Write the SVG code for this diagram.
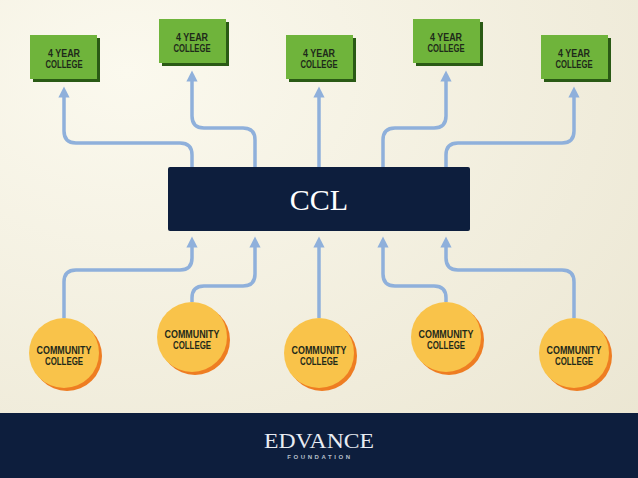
<svg xmlns="http://www.w3.org/2000/svg" width="638" height="478" viewBox="0 0 638 478">
<defs>
<radialGradient id="bg" cx="0.2" cy="0.15" r="1.1"><stop offset="0" stop-color="#fbf9ee"/><stop offset="1" stop-color="#ebe6d2"/></radialGradient>
<marker id="ah" viewBox="0 0 10 10" refX="5" refY="5" markerWidth="3.2" markerHeight="3.2" orient="auto"><path d="M0,0 L10,5 L0,10 z" fill="#8fb0db"/></marker>
<style>
.c{fill:none;stroke:#8fb0db;stroke-width:3.5;marker-end:url(#ah)}
.bx{fill:#6fb43b}.bs{fill:#2a5a15}
.cc{fill:#f9c34a}.cs{fill:#ee7d22}
.t{font-family:"Liberation Sans",Arial,sans-serif;font-weight:bold;font-size:11px;fill:#1e2a1a;text-anchor:middle}
</style>
</defs>
<rect width="638" height="478" fill="url(#bg)"/>
<g id="connectors">
<path class="c" d="M192,167 V155 Q192,143 180,143 H76 Q64,143 64,131 V92"/>
<path class="c" d="M255,167 V140 Q255,128 243,128 H204 Q192,128 192,116 V76"/>
<path class="c" d="M319,167 V92"/>
<path class="c" d="M383,167 V140 Q383,128 395,128 H434 Q446,128 446,116 V76"/>
<path class="c" d="M446,167 V155 Q446,143 458,143 H562 Q574,143 574,131 V92"/>
<path class="c" d="M64,318 V282 Q64,270 76,270 H180 Q192,270 192,258 V242"/>
<path class="c" d="M192,302 V298 Q192,286 204,286 H243 Q255,286 255,274 V242"/>
<path class="c" d="M319,318 V242"/>
<path class="c" d="M446,302 V298 Q446,286 434,286 H395 Q383,286 383,274 V242"/>
<path class="c" d="M574,318 V282 Q574,270 562,270 H458 Q446,270 446,258 V242"/>
</g>
<g id="ccl"><rect x="168" y="167" width="302" height="64" rx="2" fill="#0d1e3d"/>
<text x="319" y="210" font-family="Liberation Serif,serif" font-size="30" fill="#fff" text-anchor="middle">CCL</text></g>
<g id="y1"><rect class="bs" x="33" y="38" width="67" height="44"/><rect class="bx" x="30" y="35" width="67" height="44"/><text class="t" x="64" y="57" textLength="32" lengthAdjust="spacingAndGlyphs">4 YEAR</text><text class="t" x="64" y="68" textLength="37" lengthAdjust="spacingAndGlyphs">COLLEGE</text></g>
<g id="y2"><rect class="bs" x="162" y="22" width="67" height="44"/><rect class="bx" x="159" y="19" width="67" height="44"/><text class="t" x="192" y="41" textLength="32" lengthAdjust="spacingAndGlyphs">4 YEAR</text><text class="t" x="192" y="52" textLength="37" lengthAdjust="spacingAndGlyphs">COLLEGE</text></g>
<g id="y3"><rect class="bs" x="289" y="38" width="67" height="44"/><rect class="bx" x="286" y="35" width="67" height="44"/><text class="t" x="319" y="57" textLength="32" lengthAdjust="spacingAndGlyphs">4 YEAR</text><text class="t" x="319" y="68" textLength="37" lengthAdjust="spacingAndGlyphs">COLLEGE</text></g>
<g id="y4"><rect class="bs" x="416" y="22" width="67" height="44"/><rect class="bx" x="413" y="19" width="67" height="44"/><text class="t" x="446" y="41" textLength="32" lengthAdjust="spacingAndGlyphs">4 YEAR</text><text class="t" x="446" y="52" textLength="37" lengthAdjust="spacingAndGlyphs">COLLEGE</text></g>
<g id="y5"><rect class="bs" x="544" y="38" width="67" height="44"/><rect class="bx" x="541" y="35" width="67" height="44"/><text class="t" x="574" y="57" textLength="32" lengthAdjust="spacingAndGlyphs">4 YEAR</text><text class="t" x="574" y="68" textLength="37" lengthAdjust="spacingAndGlyphs">COLLEGE</text></g>
<g id="cc1"><circle class="cs" cx="67" cy="356" r="35"/><circle class="cc" cx="64" cy="353" r="35"/><text class="t" x="64" y="354" textLength="55" lengthAdjust="spacingAndGlyphs">COMMUNITY</text><text class="t" x="64" y="365" textLength="38" lengthAdjust="spacingAndGlyphs">COLLEGE</text></g>
<g id="cc2"><circle class="cs" cx="195" cy="340" r="35"/><circle class="cc" cx="192" cy="337" r="35"/><text class="t" x="192" y="338" textLength="55" lengthAdjust="spacingAndGlyphs">COMMUNITY</text><text class="t" x="192" y="349" textLength="38" lengthAdjust="spacingAndGlyphs">COLLEGE</text></g>
<g id="cc3"><circle class="cs" cx="322" cy="356" r="35"/><circle class="cc" cx="319" cy="353" r="35"/><text class="t" x="319" y="354" textLength="55" lengthAdjust="spacingAndGlyphs">COMMUNITY</text><text class="t" x="319" y="365" textLength="38" lengthAdjust="spacingAndGlyphs">COLLEGE</text></g>
<g id="cc4"><circle class="cs" cx="449" cy="340" r="35"/><circle class="cc" cx="446" cy="337" r="35"/><text class="t" x="446" y="338" textLength="55" lengthAdjust="spacingAndGlyphs">COMMUNITY</text><text class="t" x="446" y="349" textLength="38" lengthAdjust="spacingAndGlyphs">COLLEGE</text></g>
<g id="cc5"><circle class="cs" cx="577" cy="356" r="35"/><circle class="cc" cx="574" cy="353" r="35"/><text class="t" x="574" y="354" textLength="55" lengthAdjust="spacingAndGlyphs">COMMUNITY</text><text class="t" x="574" y="365" textLength="38" lengthAdjust="spacingAndGlyphs">COLLEGE</text></g>
<g id="footer"><rect x="0" y="413" width="638" height="65" fill="#0d1e3d"/>
<text x="319" y="448" font-family="Liberation Serif,serif" font-size="22" fill="#e8ecf2" text-anchor="middle" textLength="110" lengthAdjust="spacingAndGlyphs">EDVANCE</text>
<text x="320" y="459" font-family="Liberation Sans,sans-serif" font-size="6" font-weight="bold" fill="#b8c0cc" text-anchor="middle" letter-spacing="2.6">FOUNDATION</text></g>
</svg>
